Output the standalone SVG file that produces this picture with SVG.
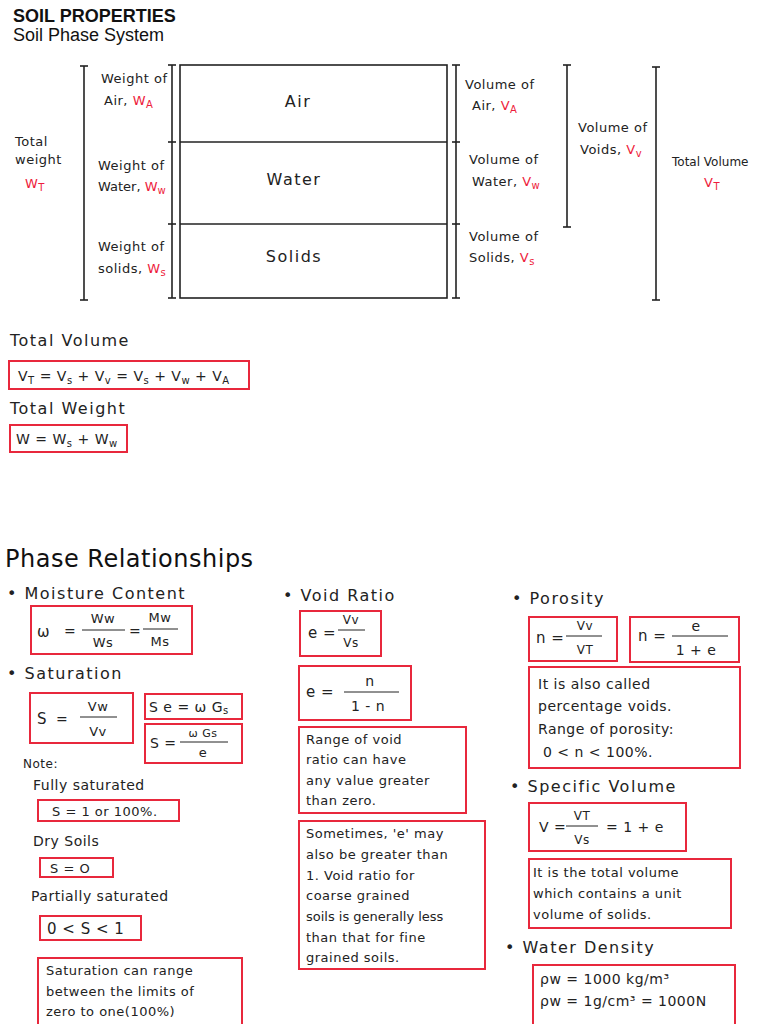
<svg xmlns="http://www.w3.org/2000/svg" width="768" height="1024" viewBox="0 0 768 1024">
<style>
.t{font-family:"DejaVu Sans","Liberation Sans",sans-serif;font-size:13px;fill:#222;letter-spacing:0.5px}
.h{font-family:"DejaVu Sans","Liberation Sans",sans-serif;font-size:16px;fill:#222;letter-spacing:1.5px}
.r{fill:#ee1c3c}
.s{font-size:10px}
.box{fill:none;stroke:#e8283c;stroke-width:2}
.ln{stroke:#222;stroke-width:1.6;fill:none}
.fr{stroke:#222;stroke-width:1;fill:none}
</style>
<rect width="768" height="1024" fill="#fff"/>
<text x="13" y="22" font-family="Liberation Sans,Arial,sans-serif" font-size="18" font-weight="bold" fill="#111">SOIL PROPERTIES</text>
<text x="13" y="41" font-family="Liberation Sans,Arial,sans-serif" font-size="18" fill="#111">Soil Phase System</text>

<g id="phase-box">
<rect x="180" y="65" width="267" height="233" class="ln"/>
<line x1="180" y1="142" x2="447" y2="142" class="ln"/>
<line x1="180" y1="224" x2="447" y2="224" class="ln"/>
<text x="298" y="107" class="h" text-anchor="middle">Air</text>
<text x="294" y="185" class="h" text-anchor="middle">Water</text>
<text x="294" y="262" class="h" text-anchor="middle">Solids</text>
</g>
<g id="dimension-lines">
<line x1="84" y1="66" x2="84" y2="300" class="ln"/><line x1="80" y1="66" x2="88" y2="66" class="ln"/><line x1="80" y1="300" x2="88" y2="300" class="ln"/>
<line x1="172" y1="65" x2="172" y2="298" class="ln"/><line x1="168" y1="65" x2="176" y2="65" class="ln"/><line x1="168" y1="142" x2="176" y2="142" class="ln"/><line x1="168" y1="224" x2="176" y2="224" class="ln"/><line x1="168" y1="298" x2="176" y2="298" class="ln"/>
<line x1="456" y1="65" x2="456" y2="298" class="ln"/><line x1="452" y1="65" x2="460" y2="65" class="ln"/><line x1="452" y1="142" x2="460" y2="142" class="ln"/><line x1="452" y1="224" x2="460" y2="224" class="ln"/><line x1="452" y1="298" x2="460" y2="298" class="ln"/>
<line x1="567" y1="65" x2="567" y2="227" class="ln"/><line x1="563" y1="65" x2="571" y2="65" class="ln"/><line x1="563" y1="227" x2="571" y2="227" class="ln"/>
<line x1="656" y1="67" x2="656" y2="300" class="ln"/><line x1="652" y1="67" x2="660" y2="67" class="ln"/><line x1="652" y1="300" x2="660" y2="300" class="ln"/>
</g>
<g id="weight-labels">
<text x="15" y="146" class="t">Total</text>
<text x="15" y="164" class="t">weight</text>
<text x="25" y="188" class="t r">W<tspan class="s" dy="3">T</tspan></text>
<text x="101" y="83" class="t">Weight of</text>
<text x="104" y="105" class="t">Air, <tspan class="r">W<tspan class="s" dy="3">A</tspan></tspan></text>
<text x="98" y="170" class="t">Weight of</text>
<text x="98" y="191" class="t" style="letter-spacing:0">Water, <tspan class="r">W<tspan class="s" dy="3">w</tspan></tspan></text>
<text x="98" y="251" class="t">Weight of</text>
<text x="98" y="273" class="t">solids, <tspan class="r">W<tspan class="s" dy="3">s</tspan></tspan></text>
</g>
<g id="volume-labels">
<text x="465" y="89" class="t">Volume of</text>
<text x="472" y="110" class="t">Air, <tspan class="r">V<tspan class="s" dy="3">A</tspan></tspan></text>
<text x="469" y="164" class="t">Volume of</text>
<text x="472" y="186" class="t">Water, <tspan class="r">V<tspan class="s" dy="3">w</tspan></tspan></text>
<text x="469" y="241" class="t">Volume of</text>
<text x="469" y="262" class="t">Solids, <tspan class="r">V<tspan class="s" dy="3">s</tspan></tspan></text>
<text x="578" y="132" class="t">Volume of</text>
<text x="580" y="154" class="t">Voids, <tspan class="r">V<tspan class="s" dy="3">v</tspan></tspan></text>
<text x="672" y="166" class="t" style="font-size:12px;letter-spacing:0">Total Volume</text>
<text x="704" y="187" class="t r">V<tspan class="s" dy="3">T</tspan></text>
</g>

<g id="total-volume">
<text x="10" y="346" class="h">Total Volume</text>
<rect x="9" y="361" width="240" height="28" class="box"/>
<text x="18" y="381" class="t" style="font-size:14px">V<tspan class="s" dy="3">T</tspan><tspan dy="-3"> = V</tspan><tspan class="s" dy="3">s</tspan><tspan dy="-3"> + V</tspan><tspan class="s" dy="3">v</tspan><tspan dy="-3"> = V</tspan><tspan class="s" dy="3">s</tspan><tspan dy="-3"> + V</tspan><tspan class="s" dy="3">w</tspan><tspan dy="-3"> + V</tspan><tspan class="s" dy="3">A</tspan></text>
</g>
<g id="total-weight">
<text x="10" y="414" class="h">Total Weight</text>
<rect x="10" y="425" width="117" height="27" class="box"/>
<text x="16" y="444" class="t" style="font-size:14px">W = W<tspan class="s" dy="3">s</tspan><tspan dy="-3"> + W</tspan><tspan class="s" dy="3">w</tspan></text>
</g>

<text x="5" y="567" font-family="DejaVu Sans,sans-serif" font-size="24" fill="#111" letter-spacing="0.5">Phase Relationships</text>

<g id="moisture-content">
<text x="7" y="599" class="h">• Moisture Content</text>
<rect x="31" y="606" width="161" height="48" class="box"/>
<text x="37" y="637" class="t" style="font-size:15px">ω</text>
<text x="64" y="636" class="t" style="font-size:14px">=</text>
<line x1="82" y1="630" x2="125" y2="630" class="fr"/>
<text x="103" y="623" class="t" text-anchor="middle">Ww</text>
<text x="103" y="647" class="t" text-anchor="middle">Ws</text>
<text x="129" y="636" class="t" style="font-size:14px">=</text>
<line x1="143" y1="629" x2="178" y2="629" class="fr"/>
<text x="160" y="622" class="t" text-anchor="middle">Mw</text>
<text x="160" y="646" class="t" text-anchor="middle">Ms</text>
</g>
<g id="saturation">
<text x="7" y="679" class="h">• Saturation</text>
<rect x="30" y="693" width="103" height="50" class="box"/>
<text x="37" y="724" class="t" style="font-size:15px">S</text>
<text x="56" y="724" class="t" style="font-size:14px">=</text>
<line x1="80" y1="717" x2="117" y2="717" class="fr"/>
<text x="98" y="711" class="t" text-anchor="middle">Vw</text>
<text x="98" y="736" class="t" text-anchor="middle">Vv</text>
<rect x="145" y="694" width="97" height="25" class="box"/>
<text x="149" y="712" class="t" style="font-size:14px">S e = ω G<tspan class="s" dy="2">s</tspan></text>
<rect x="145" y="724" width="97" height="39" class="box"/>
<text x="150" y="748" class="t" style="font-size:14px">S =</text>
<line x1="180" y1="742" x2="228" y2="742" class="fr"/>
<text x="203" y="737" class="t" style="font-size:11px" text-anchor="middle">ω Gs</text>
<text x="203" y="757" class="t" text-anchor="middle">e</text>
<text x="23" y="768" class="t" style="font-size:12px">Note:</text>
<text x="33" y="790" class="t" style="font-size:14px">Fully saturated</text>
<rect x="38" y="800" width="141" height="21" class="box"/>
<text x="52" y="816" class="t">S = 1  or  100%.</text>
<text x="33" y="846" class="t" style="font-size:14px">Dry Soils</text>
<rect x="40" y="858" width="73" height="19" class="box"/>
<text x="50" y="873" class="t">S = O</text>
<text x="31" y="901" class="t" style="font-size:14px">Partially saturated</text>
<rect x="40" y="916" width="101" height="24" class="box"/>
<text x="47" y="934" class="t" style="font-size:15px">0 &lt; S &lt; 1</text>
<rect x="38" y="958" width="204" height="70" class="box"/>
<text x="46" y="975" class="t">Saturation can range</text>
<text x="46" y="996" class="t">between the limits of</text>
<text x="46" y="1016" class="t">zero to one(100%)</text>
</g>

<g id="void-ratio">
<text x="283" y="601" class="h">• Void Ratio</text>
<rect x="300" y="611" width="81" height="45" class="box"/>
<text x="308" y="638" class="t" style="font-size:15px">e =</text>
<line x1="338" y1="630" x2="365" y2="630" class="fr"/>
<text x="351" y="624" class="t" style="font-size:12px" text-anchor="middle">Vv</text>
<text x="351" y="647" class="t" style="font-size:12px" text-anchor="middle">Vs</text>
<rect x="299" y="666" width="112" height="54" class="box"/>
<text x="306" y="697" class="t" style="font-size:15px">e =</text>
<line x1="344" y1="692" x2="399" y2="692" class="fr"/>
<text x="370" y="686" class="t" style="font-size:14px" text-anchor="middle">n</text>
<text x="368" y="711" class="t" style="font-size:14px" text-anchor="middle">1 - n</text>
<rect x="299" y="727" width="167" height="86" class="box"/>
<text x="306" y="744" class="t">Range of void</text>
<text x="306" y="764" class="t">ratio can have</text>
<text x="306" y="785" class="t">any value greater</text>
<text x="306" y="805" class="t">than zero.</text>
<rect x="299" y="821" width="186" height="148" class="box"/>
<text x="306" y="838" class="t">Sometimes, 'e' may</text>
<text x="306" y="859" class="t">also be greater than</text>
<text x="306" y="880" class="t">1. Void ratio for</text>
<text x="306" y="900" class="t">coarse grained</text>
<text x="306" y="921" class="t" style="letter-spacing:0">soils is generally less</text>
<text x="306" y="942" class="t">than that for fine</text>
<text x="306" y="962" class="t">grained soils.</text>
</g>

<g id="porosity">
<text x="512" y="604" class="h">• Porosity</text>
<rect x="529" y="617" width="88" height="44" class="box"/>
<text x="536" y="643" class="t" style="font-size:15px">n =</text>
<line x1="566" y1="636" x2="602" y2="636" class="fr"/>
<text x="585" y="630" class="t" style="font-size:12px" text-anchor="middle">Vv</text>
<text x="585" y="654" class="t" style="font-size:12px" text-anchor="middle">VT</text>
<rect x="630" y="617" width="109" height="45" class="box"/>
<text x="638" y="641" class="t" style="font-size:15px">n =</text>
<line x1="672" y1="636" x2="728" y2="636" class="fr"/>
<text x="696" y="631" class="t" style="font-size:14px" text-anchor="middle">e</text>
<text x="696" y="655" class="t" style="font-size:14px" text-anchor="middle">1 + e</text>
<rect x="529" y="667" width="211" height="101" class="box"/>
<text x="538" y="689" class="t" style="font-size:14px">It is also called</text>
<text x="538" y="711" class="t" style="font-size:14px">percentage voids.</text>
<text x="538" y="734" class="t" style="font-size:14px">Range of porosity:</text>
<text x="543" y="757" class="t" style="font-size:14px">0 &lt; n &lt; 100%.</text>
</g>
<g id="specific-volume">
<text x="510" y="792" class="h">• Specific Volume</text>
<rect x="529" y="803" width="157" height="48" class="box"/>
<text x="539" y="832" class="t" style="font-size:14px">V =</text>
<line x1="566" y1="826" x2="598" y2="826" class="fr"/>
<text x="582" y="820" class="t" style="font-size:12px" text-anchor="middle">VT</text>
<text x="582" y="844" class="t" style="font-size:12px" text-anchor="middle">Vs</text>
<text x="606" y="832" class="t" style="font-size:14px">=  1 + e</text>
<rect x="529" y="859" width="202" height="69" class="box"/>
<text x="533" y="877" class="t">It is the total volume</text>
<text x="533" y="898" class="t">which contains a unit</text>
<text x="533" y="919" class="t">volume of solids.</text>
</g>
<g id="water-density">
<text x="505" y="953" class="h">• Water Density</text>
<rect x="533" y="965" width="202" height="64" class="box"/>
<text x="540" y="984" class="t" style="font-size:14px">ρw = 1000 kg/m³</text>
<text x="540" y="1006" class="t" style="font-size:14px">ρw = 1g/cm³ = 1000N</text>
</g>
</svg>
